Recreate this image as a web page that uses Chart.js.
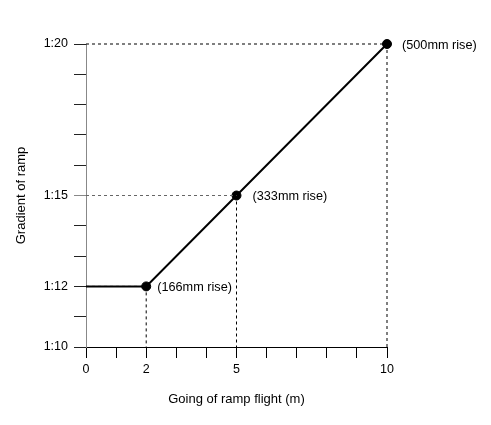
<!DOCTYPE html>
<html>
<head>
<meta charset="utf-8">
<script src="https://cdn.jsdelivr.net/npm/chart.js@4.4.1/dist/chart.umd.min.js"></script>
<style>
  html, body { margin: 0; padding: 0; background: #fff; }
  #wrap { width: 491px; height: 425px; }
</style>
</head>
<body>
<div id="wrap"><canvas id="rampChart"></canvas></div>
<script>
// going of ramp flight (m) and gradient (1:n)
const going = [0, 2, 5, 10];
const gradient = [12, 12, 15, 20];
const markedGoing = [2, 5, 10];
const markedGradient = [12, 15, 20];
const riseLabels = ['(166mm rise)', '(333mm rise)', '(500mm rise)'];
const xTickLabels = [0, 2, 5, 10];
const yTickLabels = [10, 12, 15, 20];

const fontFamily = '"Liberation Sans", Arial, Helvetica, sans-serif';
const labelGap = [11, 16, 15]; // px from the dot to the rise label

const rampLine = going.map((x, i) => ({ x: x, y: gradient[i] }));
const markers = markedGoing.map((x, i) => ({ x: x, y: markedGradient[i] }));

// dashed guide lines from each marked point back to the axes
const guideSets = [];
markedGoing.forEach((x, i) => {
    const y = markedGradient[i];
    const grey = y === 15 ? '#666' : '#000';
    guideSets.push({
        data: [{ x: 0, y: y }, { x: x, y: y }],
        showLine: true, borderColor: grey, borderWidth: 1, borderDash: [3, 3],
        pointRadius: 0, clip: false
    });
    guideSets.push({
        data: [{ x: x, y: y }, { x: x, y: 10 }],
        showLine: true, borderColor: '#000', borderWidth: 1, borderDash: [3, 3],
        pointRadius: 0, clip: false
    });
});

const riseText = {
    id: 'riseText',
    afterDatasetsDraw(chart) {
        const ctx = chart.ctx;
        const xs = chart.scales.x;
        const ys = chart.scales.y;
        ctx.save();
        ctx.font = '12.7px ' + fontFamily;
        ctx.fillStyle = '#000';
        ctx.textBaseline = 'middle';
        ctx.textAlign = 'left';
        riseLabels.forEach((t, i) => {
            ctx.fillText(t, xs.getPixelForValue(markedGoing[i]) + labelGap[i], ys.getPixelForValue(markedGradient[i]) + 1);
        });
        ctx.restore();
    }
};

const everyUnit = (scale) => {
    const ticks = [];
    for (let v = scale.min; v <= scale.max; v++) ticks.push({ value: v });
    scale.ticks = ticks;
};

new Chart(document.getElementById('rampChart'), {
    type: 'scatter',
    data: {
        datasets: [
            ...guideSets,
            {
                data: rampLine,
                showLine: true, borderColor: '#000', borderWidth: 2,
                pointRadius: 0, clip: false
            },
            {
                data: markers,
                showLine: false, backgroundColor: '#000', borderColor: '#000',
                pointRadius: 4.5, clip: false
            }
        ]
    },
    options: {
        responsive: true,
        maintainAspectRatio: false,
        animation: false,
        layout: { padding: { left: 0, right: 104, top: 44, bottom: 0 } },
        plugins: { legend: { display: false }, tooltip: { enabled: false } },
        scales: {
            x: {
                type: 'linear', min: 0, max: 10,
                afterBuildTicks: everyUnit,
                afterFit: (scale) => { scale.height = 78; },
                border: { color: '#000', width: 1 },
                grid: { drawOnChartArea: false, drawTicks: true, tickLength: 11, color: '#000' },
                ticks: {
                    padding: 4, color: '#000', autoSkip: false, maxRotation: 0,
                    font: { family: fontFamily, size: 12.5 },
                    callback: (v) => xTickLabels.includes(v) ? String(v) : ''
                },
                title: {
                    display: true, text: 'Going of ramp flight (m)', color: '#000',
                    font: { family: fontFamily, size: 13 }, padding: { top: 0, bottom: 18 }
                }
            },
            y: {
                type: 'linear', min: 10, max: 20,
                afterBuildTicks: everyUnit,
                afterFit: (scale) => { scale.width = 86; },
                border: { color: '#888', width: 1 },
                grid: {
                    drawOnChartArea: false, drawTicks: true, tickLength: 12,
                    color: (c) => c.tick && c.tick.value === 15 ? '#888' : '#222'
                },
                ticks: {
                    padding: 6, color: '#000', autoSkip: false,
                    font: { family: fontFamily, size: 12.5 },
                    callback: (v) => yTickLabels.includes(v) ? '1:' + v : ''
                },
                title: {
                    display: true, text: 'Gradient of ramp', color: '#000',
                    font: { family: fontFamily, size: 13 }, padding: { top: 14, bottom: 0 }
                }
            }
        }
    },
    plugins: [riseText]
});
</script>
</body>
</html>
